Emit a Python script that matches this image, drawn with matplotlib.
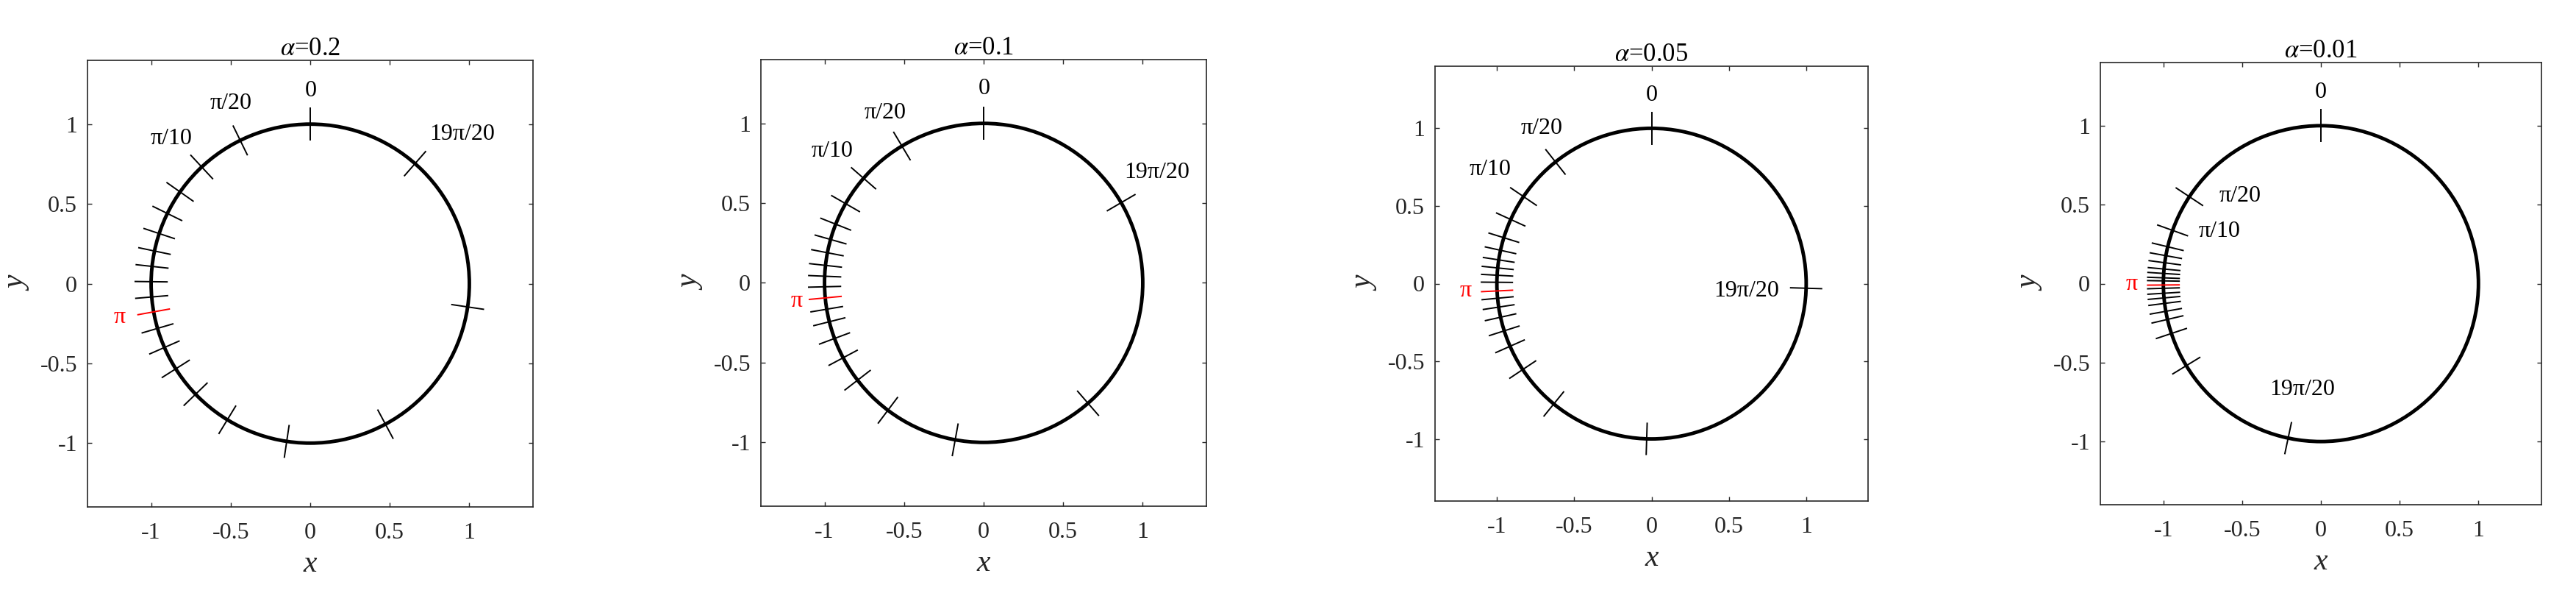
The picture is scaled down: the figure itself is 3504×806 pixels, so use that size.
import numpy as np
import matplotlib
matplotlib.use('Agg')
import matplotlib.pyplot as plt
from matplotlib.patches import Circle

plt.rcParams['font.family'] = ['Liberation Serif', 'DejaVu Serif']
plt.rcParams['mathtext.fontset'] = 'stix'
plt.rcParams['axes.unicode_minus'] = False

alphas = [0.2, 0.1, 0.05, 0.01]

# where each marker sits on the unit circle (degrees, counterclockwise from +x)
# index 10 is the red one
ang_02 = [90, 116.1, 133.0, 144.9, 153.9, 161.7, 168.2, 173.8, 179.3, 184.8,
          190.2, 196.3, 203.6, 212.3, 223.9, 238.6, 261.5, 298.2, 351.6, 48.8]
ang_01 = [90, 120.9, 139.0, 150.2, 158.4, 164.2, 169.1, 173.7, 177.6, 181.4,
          185.4, 189.5, 194.1, 200.4, 208.0, 217.6, 233.0, 259.7, 311.0, 30.2]
ang_005 = [90, 128.4, 145.9, 155.6, 162.8, 167.6, 171.2, 174.2, 176.9, 179.5,
           182.7, 185.4, 188.7, 192.5, 197.7, 203.8, 213.6, 230.8, 268.2, 358.3]
ang_001 = [90, 146.6, 160.3, 166.5, 169.8, 172.4, 174.7, 176.3, 177.9, 179.0,
           180.5, 181.7, 183.5, 185.2, 187.2, 190.1, 193.1, 198.4, 211.3, 258.0]
angles = [ang_02, ang_01, ang_005, ang_001]
red_idx = 10

label_txt = ['0', 'π/20', 'π/10', '19π/20', 'π']
# text centres for the labels above, one list per panel
lab_02 = [(0.005, 1.21), (-0.498, 1.13), (-0.874, 0.909), (0.955, 0.935), (-1.198, -0.211)]
lab_01 = [(0.005, 1.216), (-0.618, 1.066), (-0.950, 0.825), (1.087, 0.694), (-1.177, -0.116)]
lab_005 = [(0.0, 1.215), (-0.712, 1.0), (-1.044, 0.732), (0.616, -0.049), (-1.2, -0.049)]
lab_001 = [(0.0, 1.213), (-0.515, 0.555), (-0.646, 0.330), (-0.116, -0.67), (-1.201, -0.005)]
labels = [lab_02, lab_01, lab_005, lab_001]

W, H = 3504, 806
fig = plt.figure(figsize=(W / 100, H / 100), dpi=100)
# axes boxes in pixels: left, top, right, bottom
boxes = [(119, 82, 725, 689), (1035, 81, 1641, 688),
         (1952, 90, 2541, 681), (2857, 85, 3457, 686)]

dark = '#262626'
for i in range(4):
    l, t, r, b = boxes[i]
    ax = fig.add_axes([l / W, 1 - b / H, (r - l) / W, (b - t) / H])
    ax.add_patch(Circle((0, 0), 1, fill=False, ec='k', lw=3.5, zorder=2))
    for k, a in enumerate(angles[i]):
        c, s = np.cos(np.radians(a)), np.sin(np.radians(a))
        col = 'r' if k == red_idx else 'k'
        ax.plot([0.9 * c, 1.1 * c], [0.9 * s, 1.1 * s], color=col, lw=1.4, zorder=3)
    for j, (x, y) in enumerate(labels[i]):
        ax.text(x, y, label_txt[j], fontsize=23, ha='center', va='center',
                color='r' if label_txt[j] == 'π' else 'k')

    ax.set_xlim(-1.4, 1.4)
    ax.set_ylim(-1.4, 1.4)
    ticks = [-1, -0.5, 0, 0.5, 1]
    tl = ['-1', '-0.5', '0', '0.5', '1']
    ax.set_xticks(ticks)
    ax.set_xticklabels(tl)
    ax.set_yticks(ticks)
    ax.set_yticklabels(tl)
    ax.tick_params(direction='in', top=True, right=True, length=4.5, width=1.0,
                   colors=dark, labelsize=23)
    ax.tick_params(axis='x', pad=15)
    ax.tick_params(axis='y', pad=10)
    for sp in ax.spines.values():
        sp.set_linewidth(1.2)
        sp.set_color(dark)
    ax.set_xlabel('x', fontsize=30, style='italic', color=dark, labelpad=6)
    ax.set_ylabel('y', fontsize=30, style='italic', color=dark, labelpad=8)
    ax.set_title(r'$\alpha$=' + str(alphas[i]), fontsize=25, pad=5)

fig.savefig('out.png', dpi=100, facecolor='white')
